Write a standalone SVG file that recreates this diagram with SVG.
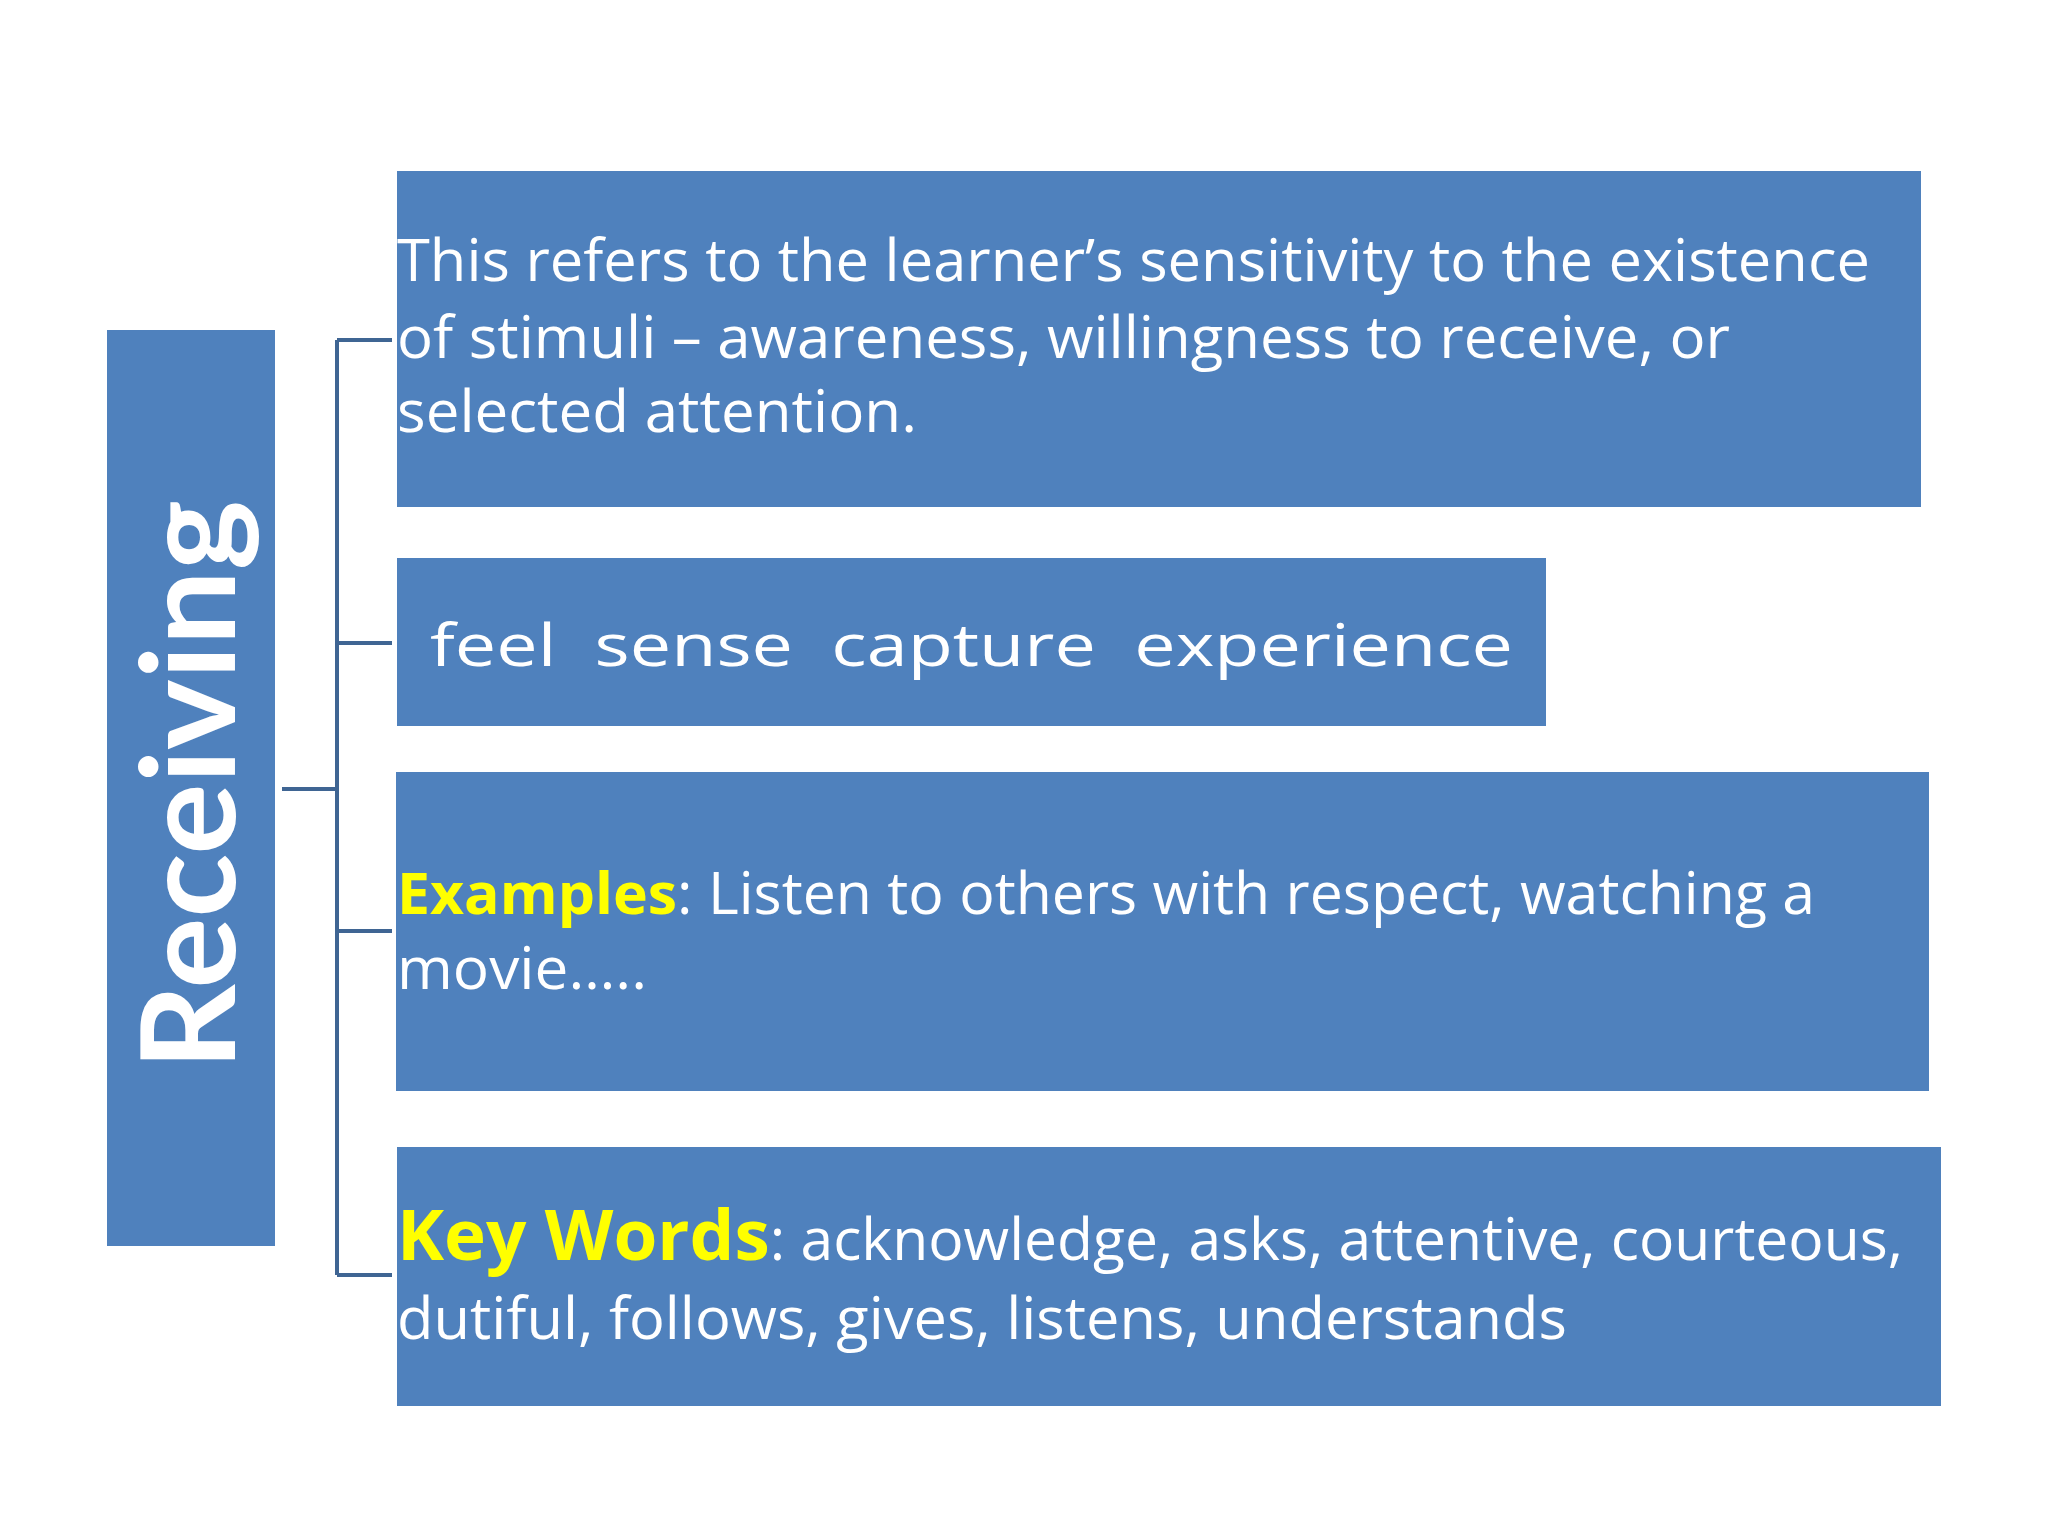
<svg xmlns="http://www.w3.org/2000/svg" width="2048" height="1536" viewBox="0 0 2048 1536">
<style>
.box{fill:#4F81BD}
.t{font-family:"Open Sans","Liberation Sans",sans-serif;fill:#fff;font-size:58px}
.y{fill:#FFFF00;font-weight:bold}
.c{stroke:#3F6593;stroke-width:4;fill:none}
</style>
<rect width="2048" height="1536" fill="#fff"/>
<g id="connectors">
<path class="c" d="M337 340V1275M337 340H392M337 643H392M337 931H392M337 1275H392M282 789H337"/>
</g>
<g id="receiving">
<rect class="box" x="107" y="330" width="168" height="916"/>
<text transform="translate(235,1070) rotate(-90)" font-family="Lato,'Open Sans',sans-serif" font-weight="bold" font-size="130" fill="#fff" textLength="570" lengthAdjust="spacingAndGlyphs">Receiving</text>
</g>
<g id="definition">
<rect class="box" x="397" y="171" width="1524" height="336"/>
<text class="t" x="397" y="281" textLength="1473" lengthAdjust="spacingAndGlyphs">This refers to the learner’s sensitivity to the existence</text>
<text class="t" x="397" y="358" textLength="1333" lengthAdjust="spacingAndGlyphs">of stimuli – awareness, willingness to receive, or</text>
<text class="t" x="397" y="432" textLength="520" lengthAdjust="spacingAndGlyphs">selected attention.</text>
</g>
<g id="verbs">
<rect class="box" x="397" y="558" width="1149" height="168"/>
<text class="t" x="430" y="666" font-size="74" xml:space="preserve" textLength="1083" lengthAdjust="spacingAndGlyphs">feel  sense  capture  experience</text>
</g>
<g id="examples">
<rect class="box" x="396" y="772" width="1533" height="319"/>
<text class="t" x="397" y="914" textLength="1418" lengthAdjust="spacingAndGlyphs"><tspan class="y">Examples</tspan>: Listen to others with respect, watching a</text>
<text class="t" x="397" y="989" textLength="250" lengthAdjust="spacingAndGlyphs">movie…..</text>
</g>
<g id="keywords">
<rect class="box" x="397" y="1147" width="1544" height="259"/>
<text class="t" x="397" y="1260" textLength="1506" lengthAdjust="spacingAndGlyphs"><tspan class="y" font-size="70">Key Words</tspan>: acknowledge, asks, attentive, courteous,</text>
<text class="t" x="397" y="1339" textLength="1170" lengthAdjust="spacingAndGlyphs">dutiful, follows, gives, listens, understands</text>
</g>
</svg>
